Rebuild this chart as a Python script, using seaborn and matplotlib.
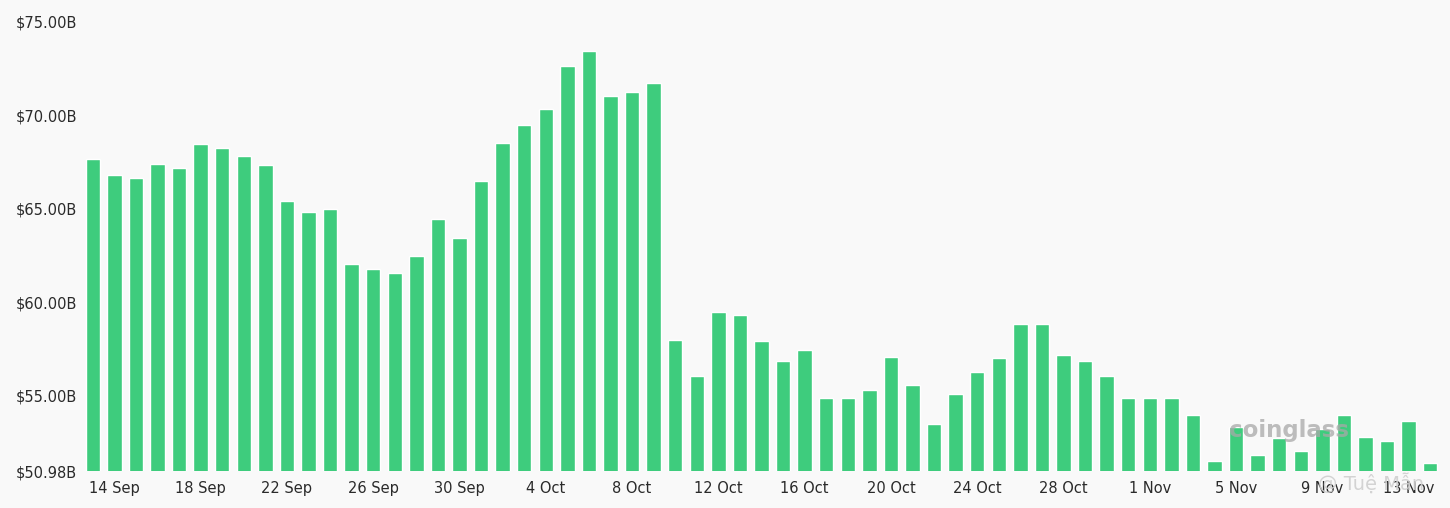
import matplotlib
matplotlib.use("Agg")
import matplotlib.pyplot as plt
import pandas as pd
import seaborn as sns

# daily values, 13 Sep .. 14 Nov, in billions USD
dates = pd.date_range("2024-09-13", "2024-11-14", freq="D")
values = [
    67.68, 66.83, 66.64, 67.42, 67.20, 68.45, 68.27, 67.82, 67.34, 65.43,
    64.81, 64.97, 62.06, 61.79, 61.58, 62.49, 64.45, 63.45, 66.47, 68.54,
    69.50, 70.36, 72.64, 73.45, 71.06, 71.23, 71.75, 57.99, 56.04, 59.47,
    59.34, 57.91, 56.88, 57.43, 54.91, 54.86, 55.33, 57.08, 55.59, 53.49,
    55.10, 56.25, 57.02, 58.84, 58.84, 57.16, 56.86, 56.06, 54.90, 54.90,
    54.90, 53.95, 51.52, 53.31, 51.85, 52.77, 52.06, 53.25, 53.97, 52.81,
    52.60, 53.65, 51.42,
]
y_ticks = [50.98, 55.0, 60.0, 65.0, 70.0, 75.0]

labels = [f"{d.day} {d.strftime('%b')}" for d in dates]
df = pd.DataFrame({"date": labels, "value": values})

sns.set_theme(style="white")
plt.rcParams["font.family"] = ["DejaVu Sans"]

fig = plt.figure(figsize=(14.5, 5.08), dpi=100, facecolor="#f9f9f9")
ax = fig.add_axes([82 / 1450, 37 / 508, 1359 / 1450, 449 / 508])
ax.set_facecolor("#f9f9f9")

sns.barplot(data=df, x="date", y="value", color="#3ecc7d", width=0.67,
            saturation=1, ax=ax)

ax.set_xlim(-0.5, len(values) - 0.5)
ax.set_ylim(y_ticks[0], y_ticks[-1])
ax.set_yticks(y_ticks)
ax.set_yticklabels([f"${v:.2f}B" for v in y_ticks])
for lbl in ax.get_yticklabels():
    lbl.set_horizontalalignment("left")
ax.tick_params(axis="y", length=0, pad=48, labelsize=10.5, colors="#2a2a2a")

tick_idx = list(range(1, len(labels), 4))
ax.set_xticks(tick_idx)
ax.set_xticklabels([labels[i] for i in tick_idx])
ax.tick_params(axis="x", length=0, pad=7, labelsize=10.5, colors="#2a2a2a")

ax.set_xlabel("")
ax.set_ylabel("")
for s in ax.spines.values():
    s.set_visible(False)

# watermarks
fig.text(1229 / 1450, 1 - 431 / 508, "coinglass", fontsize=16.5, fontweight="bold",
         color="#a8a8a8", alpha=0.75, va="center", ha="left")
fig.text(1318 / 1450, 1 - 484 / 508, "@ Tuệ Mẫn", fontsize=14,
         color="#cfcfcf", alpha=0.9, va="center", ha="left")

fig.savefig("out.png", dpi=100, facecolor=fig.get_facecolor())
